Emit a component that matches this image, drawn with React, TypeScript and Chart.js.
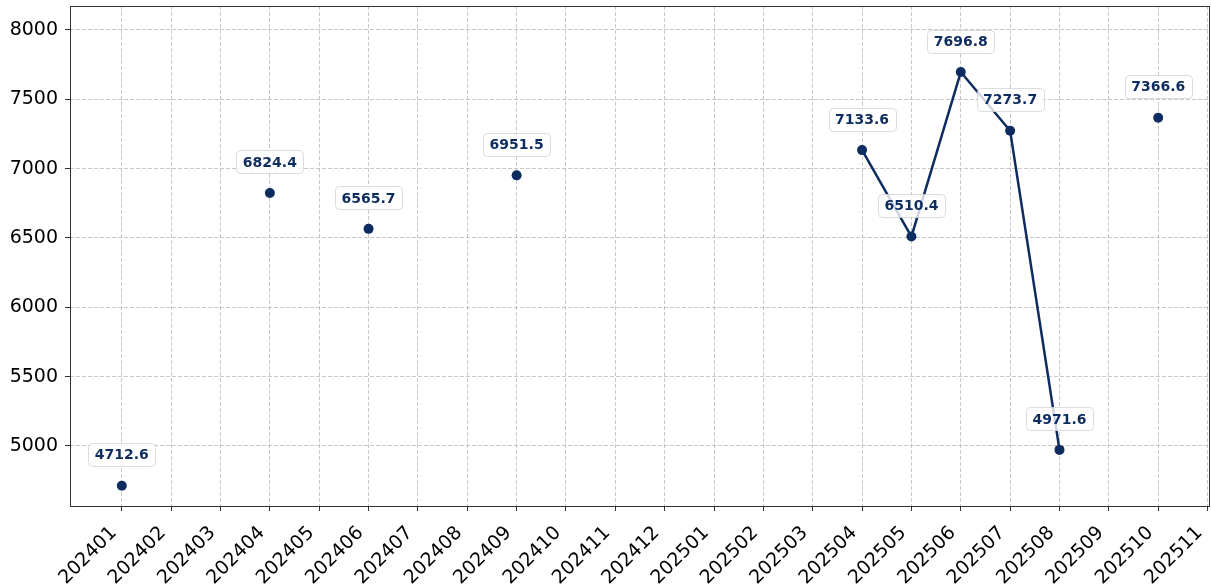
import React, { useEffect, useRef } from "react";
import { Chart, registerables } from "chart.js";

Chart.register(...registerables);

const categories: string[] = [
  "202401", "202402", "202403", "202404", "202405", "202406", "202407", "202408",
  "202409", "202410", "202411", "202412", "202501", "202502", "202503", "202504",
  "202505", "202506", "202507", "202508", "202509", "202510", "202511",
];

const values: (number | null)[] = [
  4712.6, null, null, 6824.4, null, 6565.7, null, null,
  6951.5, null, null, null, null, null, null, 7133.6,
  6510.4, 7696.8, 7273.7, 4971.6, null, 7366.6, null,
];

const yTicks: number[] = [5000, 5500, 6000, 6500, 7000, 7500, 8000];

const LINE_COLOR = "#0d2c5f";
const FONT = "'DejaVu Sans', sans-serif";

const labelPlugin = {
  id: "valueLabels",
  afterDatasetsDraw(chart: any) {
    const ctx = chart.ctx as CanvasRenderingContext2D;
    const meta = chart.getDatasetMeta(0);
    ctx.save();
    ctx.font = `bold 14px ${FONT}`;
    ctx.textAlign = "center";
    ctx.textBaseline = "middle";
    meta.data.forEach((pt: any, i: number) => {
      const v = values[i];
      if (v === null || v === undefined) return;
      const text = v.toFixed(1);
      const cx = pt.x;
      const cy = pt.y - 31;
      const w = ctx.measureText(text).width + 13;
      const h = 23;
      const x0 = cx - w / 2;
      const y0 = cy - h / 2;
      ctx.beginPath();
      ctx.roundRect(Math.round(x0) + 0.5, Math.round(y0) + 0.5, Math.round(w), h, 4);
      ctx.fillStyle = "rgba(255,255,255,0.8)";
      ctx.fill();
      ctx.strokeStyle = "rgba(211,211,211,0.8)";
      ctx.lineWidth = 1;
      ctx.stroke();
      ctx.fillStyle = LINE_COLOR;
      ctx.fillText(text, cx, cy + 1);
    });
    ctx.restore();
  },
  afterDraw(chart: any) {
    const { ctx, chartArea } = chart;
    ctx.save();
    ctx.strokeStyle = "#333333";
    ctx.lineWidth = 1;
    ctx.strokeRect(
      Math.round(chartArea.left) + 0.5,
      Math.round(chartArea.top) + 0.5,
      Math.round(chartArea.right - chartArea.left) - 1,
      Math.round(chartArea.bottom - chartArea.top)
    );
    ctx.restore();
  },
};

export default function App() {
  const canvasRef = useRef<HTMLCanvasElement | null>(null);

  useEffect(() => {
    document.body.style.margin = "0";
    const canvas = canvasRef.current;
    if (!canvas) return;
    const data = values.map((v, i) => ({ x: i, y: v }));
    const chart = new Chart(canvas, {
      type: "line",
      data: {
        datasets: [
          {
            data: data as any,
            borderColor: LINE_COLOR,
            backgroundColor: LINE_COLOR,
            borderWidth: 2.5,
            pointRadius: 5,
            pointHoverRadius: 5,
            pointBackgroundColor: LINE_COLOR,
            pointBorderWidth: 0,
            spanGaps: false,
            tension: 0,
          },
        ],
      },
      options: {
        animation: false,
        responsive: false,
        devicePixelRatio: 1,
        events: [],
        layout: { autoPadding: false, padding: { left: 0, right: 1, top: 6, bottom: 0 } },
        plugins: {
          legend: { display: false },
          tooltip: { enabled: false },
        },
        scales: {
          x: {
            type: "linear",
            min: -1.05,
            max: 22.05,
            afterBuildTicks: (scale: any) => {
              scale.ticks = categories.map((_, i) => ({ value: i }));
            },
            afterFit: (scale: any) => {
              scale.height = 79;
              scale.paddingLeft = 0;
              scale.paddingRight = 0;
            },
            ticks: {
              autoSkip: false,
              maxRotation: 45,
              minRotation: 45,
              padding: 11,
              labelOffset: -8,
              color: "#000000",
              font: { family: FONT, size: 19 },
              callback: (value: any) => categories[Math.round(Number(value))] ?? "",
            },
            grid: {
              color: "rgba(176,176,176,0.7)",
              lineWidth: 1,
              tickLength: 5,
              tickColor: "#333333",
              tickWidth: 1,
              tickBorderDash: [],
            },
            border: { display: false, dash: [4, 2] },
          },
          y: {
            type: "linear",
            min: 4567,
            max: 8173,
            afterBuildTicks: (scale: any) => {
              scale.ticks = yTicks.map((v) => ({ value: v }));
            },
            afterFit: (scale: any) => {
              scale.width = 70;
              scale.paddingTop = 0;
              scale.paddingBottom = 0;
            },
            ticks: {
              padding: 7,
              color: "#000000",
              font: { family: FONT, size: 19 },
              callback: (value: any) => String(value),
            },
            grid: {
              color: "rgba(176,176,176,0.7)",
              lineWidth: 1,
              tickLength: 5,
              tickColor: "#333333",
              tickWidth: 1,
              tickBorderDash: [],
            },
            border: { display: false, dash: [4, 2] },
          },
        },
      },
      plugins: [labelPlugin],
    });
    return () => chart.destroy();
  }, []);

  return (
    <div style={{ width: 1211, height: 585 }}>
      <canvas ref={canvasRef} width={1211} height={585} style={{ display: "block" }} />
    </div>
  );
}
